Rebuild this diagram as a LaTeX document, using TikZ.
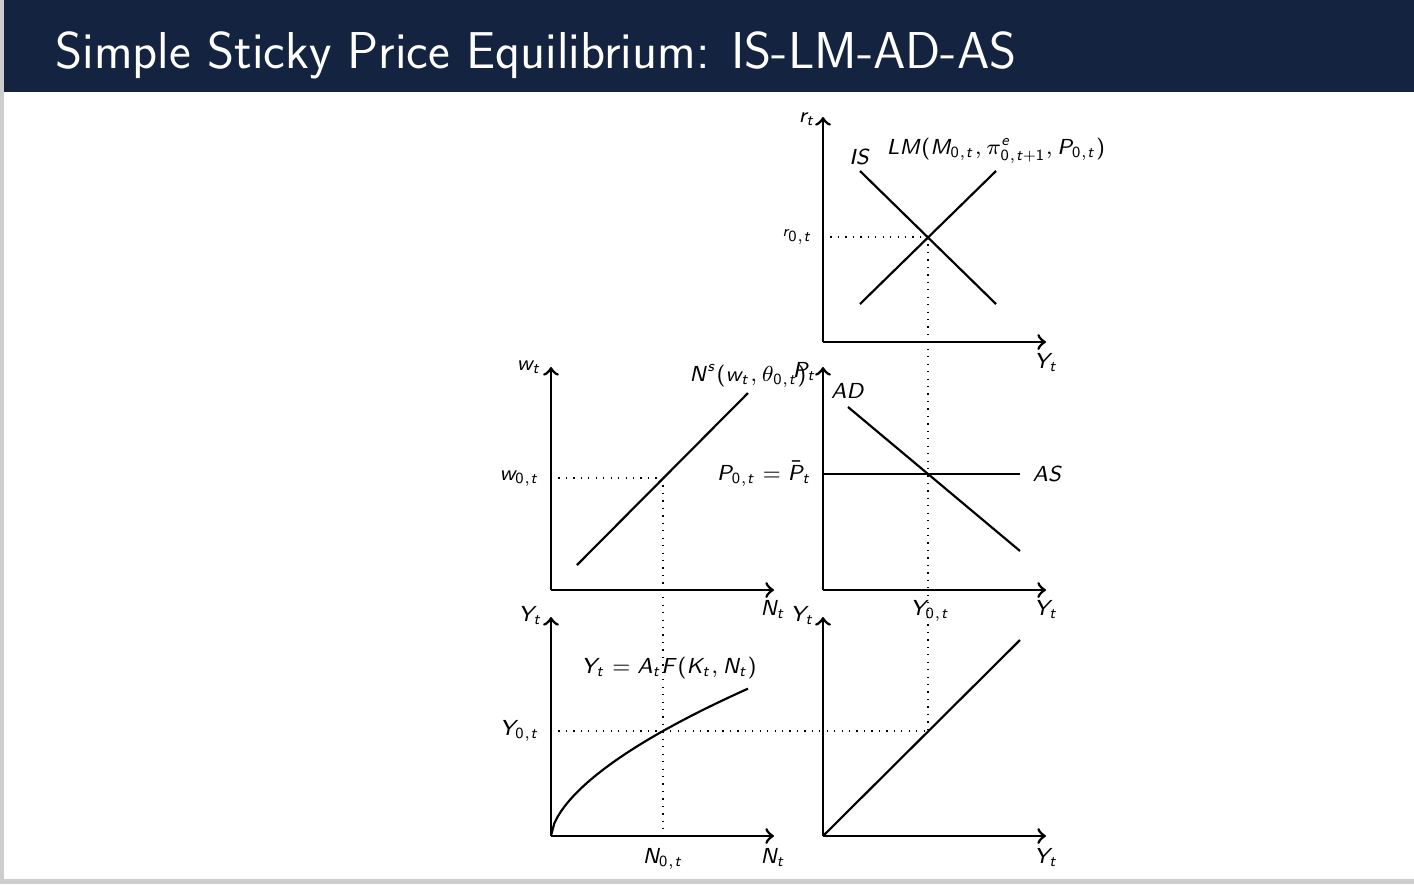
\documentclass[tikz,border=0pt]{standalone}
\DeclareSymbolFont{sfslanted}{OT1}{cmss}{m}{sl}
\SetSymbolFont{operators}{normal}{OT1}{cmss}{m}{n}
\makeatletter
\@tfor\@tmp:=abcdefghijklmnopqrstuvwxyzABCDEFGHIJKLMNOPQRSTUVWXYZ\do{%
  \edef\x{\noexpand\DeclareMathSymbol{\@tmp}{\noexpand\mathalpha}{sfslanted}{`\@tmp}}\x}
\makeatother
\DeclareMathSizes{7.2}{7.2}{4.6}{3.5}
\DeclareMathSizes{6.6}{6.6}{4.1}{3.2}
\DeclareMathSizes{5.1}{5.1}{3.5}{3}
\definecolor{slidenavy}{RGB}{20,36,64}
\definecolor{framegray}{RGB}{205,205,205}

\begin{document}
\begin{tikzpicture}[
    x=0.011315cm, y=-0.011315cm,
    axis/.style={line width=0.9pt, ->},
    curve/.style={line width=0.7pt},
    guide/.style={dotted, line width=0.4pt},
    lbl/.style={font=\sffamily\fontsize{7.2}{8}\selectfont, inner sep=1pt},
    small/.style={font=\sffamily\fontsize{6.6}{7}\selectfont, inner sep=1pt},
    tick/.style={font=\sffamily\fontsize{5.1}{6}\selectfont, inner sep=1pt}
]
    \useasboundingbox (0,0) rectangle (1414,884);

    % slide frame and title bar
    \fill[framegray] (0,0) rectangle (1414,884);
    \fill[white] (4,0) rectangle (1414,879);
    \fill[slidenavy] (4,0) rectangle (1414,92);
    \node[anchor=base west, text=white, inner sep=0pt, font=\sffamily\fontsize{16.7}{20}\selectfont] (title) at (55,68) {Simple Sticky Price Equilibrium:\hspace{0.42em}IS-LM-AD-AS};

    % IS-LM panel
    \coordinate (islmO) at (823,342);
    \coordinate (islmY) at (823,117);
    \coordinate (islmX) at (1046,342);
    \coordinate (isA) at (860,171);
    \coordinate (isB) at (996,304);
    \coordinate (lmA) at (860,304);
    \coordinate (lmB) at (996,171);
    \coordinate (islmE) at (928,237);
    \coordinate (rzero) at (823,237);
    \draw[axis] (islmO) -- (islmY);
    \draw[axis] (islmO) -- (islmX);
    \draw[curve] (isA) -- (isB);
    \draw[curve] (lmA) -- (lmB);
    \draw[guide] (rzero) -- (islmE);
    \node[lbl, anchor=east] (rlab) at (819,119) {$r_t$};
    \node[lbl, anchor=north] (islmYlab) at (1046,350) {$Y_t$};
    \node[small] (islab) at (860,157) {$IS$};
    \node[small] (lmlab) at (996,151) {$LM(M_{0,t},\pi^e_{0,t+1},P_{0,t})$};
    \node[tick, anchor=east] (r0lab) at (816,237) {$r_{0,t}$};

    % AD-AS panel
    \coordinate (adasO) at (823,590);
    \coordinate (adasY) at (823,367);
    \coordinate (adasX) at (1046,590);
    \coordinate (adA) at (848,407);
    \coordinate (adB) at (1020,551);
    \coordinate (asA) at (823,474);
    \coordinate (asB) at (1020,474);
    \coordinate (adasE) at (928,474);
    \draw[axis] (adasO) -- (adasY);
    \draw[axis] (adasO) -- (adasX);
    \draw[curve] (adA) -- (adB);
    \draw[curve] (asA) -- (asB);
    \node[lbl, anchor=east] (plab) at (820,371) {$P_t$};
    \node[small] (adlab) at (848,391) {$AD$};
    \node[lbl, anchor=west] (aslab) at (1029,474) {$AS$};
    \node[lbl, anchor=east] (p0lab) at (815,474) {$P_{0,t}=\bar{P}_t$};
    \node[lbl, anchor=north] (y0lab) at (930,597) {$Y_{0,t}$};
    \node[lbl, anchor=north] (adasXlab) at (1046,597) {$Y_t$};

    % labour market panel
    \coordinate (labO) at (551,590);
    \coordinate (labY) at (551,367);
    \coordinate (labX) at (774,590);
    \coordinate (nsA) at (577,565);
    \coordinate (nsB) at (748,393);
    \coordinate (labE) at (663,478);
    \coordinate (wzero) at (551,478);
    \draw[axis] (labO) -- (labY);
    \draw[axis] (labO) -- (labX);
    \draw[curve] (nsA) -- (nsB);
    \draw[guide] (wzero) -- (labE);
    \node[lbl, anchor=east] (wlab) at (545,367) {$w_t$};
    \node[lbl, anchor=east] (w0lab) at (543,479) {$w_{0,t}$};
    \node[small] (nslab) at (748,376) {$N^s(w_t,\theta_{0,t})$};
    \node[lbl, anchor=north] (labXlab) at (773,597) {$N_t$};

    % production panel
    \coordinate (prodO) at (551,836);
    \coordinate (prodY) at (551,617);
    \coordinate (prodX) at (774,836);
    \coordinate (prodE) at (663,731);
    \coordinate (yzero) at (551,731);
    \coordinate (nzero) at (663,836);
    \draw[axis] (prodO) -- (prodY);
    \draw[axis] (prodO) -- (prodX);
    \draw[curve] plot[domain=0.01:197, samples=60] ({551+\x},{836-6.19*\x^0.6});
    \node[lbl, anchor=east] (prodYlab) at (546,615) {$Y_t$};
    \node[lbl, anchor=east] (y0plab) at (543,731) {$Y_{0,t}$};
    \node[small] (prodlab) at (669,668) {$Y_t=A_tF(K_t,N_t)$};
    \node[lbl, anchor=north] (n0lab) at (663,845) {$N_{0,t}$};
    \node[lbl, anchor=north] (prodXlab) at (773,845) {$N_t$};

    % 45-degree panel
    \coordinate (degO) at (823,836);
    \coordinate (degY) at (823,617);
    \coordinate (degX) at (1046,836);
    \coordinate (degB) at (1020,640);
    \coordinate (degE) at (928,731);
    \draw[axis] (degO) -- (degY);
    \draw[axis] (degO) -- (degX);
    \draw[curve] (degO) -- (degB);
    \node[lbl, anchor=east] (degYlab) at (818,615) {$Y_t$};
    \node[lbl, anchor=north] (degXlab) at (1046,845) {$Y_t$};

    % equilibrium guides across panels
    \draw[guide] (islmE) -- (degE);
    \draw[guide] (labE) -- (nzero);
    \draw[guide] (yzero) -- (degE);
\end{tikzpicture}
\end{document}
